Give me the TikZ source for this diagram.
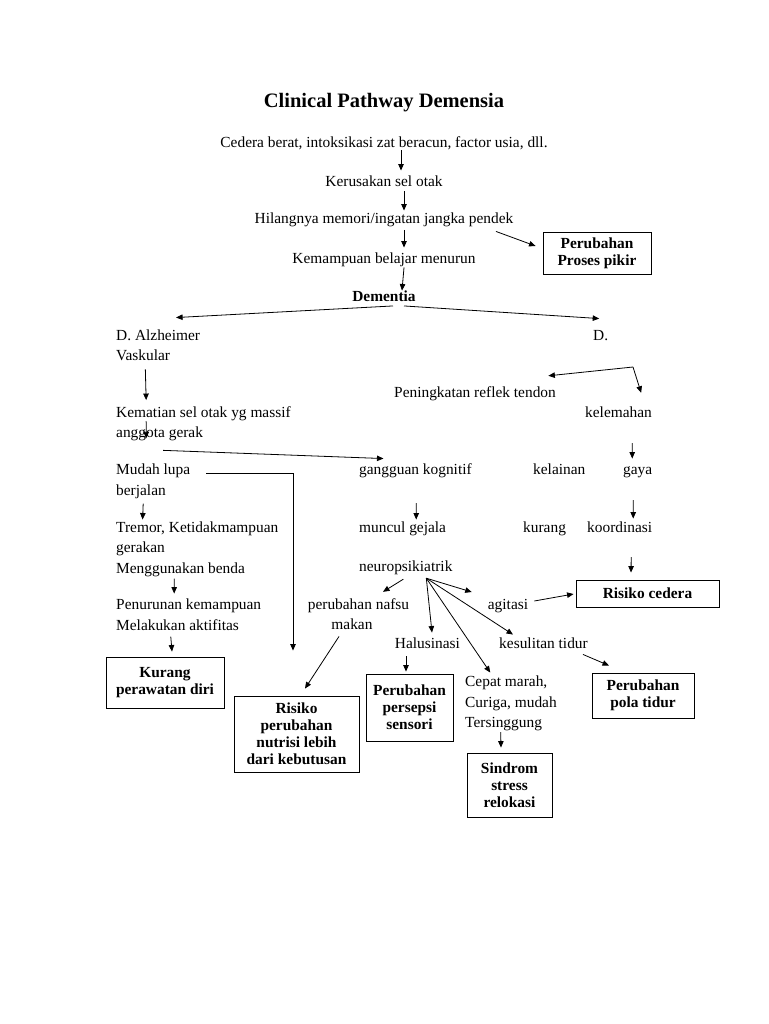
\documentclass[tikz,border=0pt]{standalone}
\usepackage{fontspec}
\setmainfont{Liberation Serif}
\usetikzlibrary{arrows.meta, positioning}
\newcommand{\bodyfont}{\fontsize{15.4}{19}\selectfont}

\begin{document}
\begin{tikzpicture}[x=1pt, y=-1pt,
    txt/.style={font=\bodyfont, inner xsep=0pt, inner ysep=2pt,
      text height=14pt, text depth=0.5pt},
    dxbox/.style={draw, line width=0.9pt, align=center, inner sep=0pt,
      font={\fontsize{15.4}{17}\selectfont\bfseries}},
    flow/.style={-{Triangle[length=6.5pt,width=5.5pt]}, line width=0.8pt}
  ]
  \fill[white] (0,0) rectangle (768,1024);
  \useasboundingbox (0,0) rectangle (768,1024);

  \node[font=\fontsize{20.5}{24}\selectfont\bfseries] (title) at (384,102.5) {Clinical Pathway Demensia};

  % jalur utama
  \node[txt] (cedera) at (384,141) {Cedera berat, intoksikasi zat beracun, factor usia, dll.};
  \node[txt] (rusak) at (384,180) {Kerusakan sel otak};
  \node[txt] (hilang) at (384,217) {Hilangnya memori/ingatan jangka pendek};
  \node[txt] (belajar) at (384,257) {Kemampuan belajar menurun};
  \node[txt, font=\bodyfont\bfseries] (dementia) at (384,295) {Dementia};
  \node[dxbox, minimum width=108, minimum height=42] (pikir) at (597,253) {Perubahan\\Proses pikir};

  % kolom kiri
  \node[txt, anchor=west] (alz) at (116,334) {D. Alzheimer};
  \node[txt, below=1pt of alz.south west, anchor=north west] (vask) {Vaskular};
  \node[txt, anchor=west] (mati) at (116,411) {Kematian sel otak yg massif};
  \node[txt, below=1pt of mati.south west, anchor=north west] (anggota) {anggota gerak};
  \node[txt, anchor=west] (lupa) at (116,468) {Mudah lupa};
  \node[txt, below=1.5pt of lupa.south west, anchor=north west] (jalan) {berjalan};
  \node[txt, anchor=west] (tremor) at (116,526) {Tremor, Ketidakmampuan};
  \node[txt, below=1pt of tremor.south west, anchor=north west] (gerakan) {gerakan};
  \node[txt, below=1.5pt of gerakan.south west, anchor=north west] (benda) {Menggunakan benda};
  \node[txt, anchor=west] (turun) at (116,603) {Penurunan kemampuan};
  \node[txt, below=1.5pt of turun.south west, anchor=north west] (aktif) {Melakukan aktifitas};
  \node[dxbox, minimum width=118, minimum height=51] (rawat) at (165,682.5) {Kurang\\perawatan diri};

  % kolom tengah
  \node[txt, anchor=west] (kognitif) at (359,468) {gangguan kognitif};
  \node[txt, anchor=west] (gejala) at (359,526) {muncul gejala};
  \node[txt, anchor=west] (neuro) at (359,565) {neuropsikiatrik};
  \node[txt] (nafsu) at (358.5,603) {perubahan nafsu};
  \node[txt] (makan) at (352,623) {makan};
  \node[txt] (agitasi) at (508,603) {agitasi};
  \node[txt] (halu) at (427.5,642) {Halusinasi};
  \node[txt] (sulit) at (543.5,642) {kesulitan tidur};
  \node[txt, anchor=west] (marah) at (465,680) {Cepat marah,};
  \node[txt, below=1.5pt of marah.south west, anchor=north west] (curiga) {Curiga, mudah};
  \node[txt, below=1.5pt of curiga.south west, anchor=north west] (singgung) {Tersinggung};
  \node[dxbox, minimum width=125, minimum height=76] (nutrisi) at (296.5,734) {Risiko\\perubahan\\nutrisi lebih\\dari kebutusan};
  \node[dxbox, minimum width=87, minimum height=67] (persepsi) at (409.5,707.5) {Perubahan\\persepsi\\sensori};
  \node[dxbox, minimum width=85, minimum height=64] (relokasi) at (509.5,785) {Sindrom\\stress\\relokasi};
  \node[dxbox, minimum width=102, minimum height=45] (pola) at (643,695.5) {Perubahan\\pola tidur};

  % kolom kanan
  \node[txt, anchor=west] (dkanan) at (593,334) {D.};
  \node[txt, anchor=west] (reflek) at (394,391) {Peningkatan reflek tendon};
  \node[txt, anchor=west] (lemah) at (585,411) {kelemahan};
  \node[txt, anchor=west] (kelainan) at (533,468) {kelainan};
  \node[txt, anchor=west] (gaya) at (623,468) {gaya};
  \node[txt, anchor=west] (kurang) at (523,526) {kurang};
  \node[txt, anchor=west] (koord) at (587,526) {koordinasi};
  \node[dxbox, minimum width=143, minimum height=27] (cedera2) at (647.5,593.5) {Risiko cedera};
  \coordinate (cabang) at (633,367);

  \draw[flow] ([shift={(17,0)}]cedera.south) -- ([shift={(17,0)}]rusak.north);
  \draw[flow] ([shift={(20,2)}]rusak.south) -- ([shift={(20,3)}]hilang.north);
  \draw[flow] ([shift={(20,3.5)}]hilang.south) -- ([shift={(20,0)}]belajar.north);
  \draw[flow] ([shift={(20,1)}]belajar.south) -- ([shift={(18,5)}]dementia.north);
  \draw[flow] ([shift={(112,5)}]hilang.south) -- ([shift={(-7,-7)}]pikir.west);
  \draw[flow] ([shift={(9,1.5)}]dementia.south) -- ([shift={(18,-7)}]alz.north);
  \draw[flow] ([shift={(20,1.5)}]dementia.south) -- ([shift={(-1.5,-6)}]dkanan.north);

  \draw[flow] ([shift={(2.2,6)}]vask.south) -- ([shift={(-57.3,-1.5)}]mati.north);
  \draw[flow] ([shift={(-57.3,1)}]mati.south) -- ([shift={(-13.4,-2)}]anggota.south);
  \draw[flow] ([shift={(3.6,10)}]anggota.south) -- ([shift={(-32,0)}]kognitif.north);
  \draw[flow] ([shift={(16,5)}]lupa.east) -| ([shift={(-3.5,-45)}]nutrisi.north);
  \draw[flow] ([shift={(2.2,5.75)}]jalan.south) -- ([shift={(-54.7,3)}]tremor.north);
  \draw[flow] ([shift={(-6.4,2.75)}]benda.south) -- ([shift={(-14.5,0)}]turun.north);
  \draw[flow] ([shift={(-6.8,3.75)}]aktif.south) -- ([shift={(7,-5)}]rawat.north);

  \draw[flow] ([shift={(0.8,25.75)}]kognitif.south) -- ([shift={(13.6,3)}]gejala.north);
  \draw[flow] ([shift={(-2.5,4.75)}]neuro.south) -- ([shift={(24.5,-1.75)}]nafsu.north);
  \draw[flow] ([shift={(20.5,3.75)}]neuro.south) -- ([shift={(-16,-11)}]agitasi.west);
  \draw[flow] ([shift={(20.5,3.75)}]neuro.south) -- ([shift={(4.5,0)}]halu.north);
  \draw[flow] ([shift={(20.5,3.75)}]neuro.south) -- ([shift={(-16,2)}]marah.north);
  \draw[flow] ([shift={(20.5,3.75)}]neuro.south) -- ([shift={(-30.5,2)}]sulit.north);
  \draw[flow] ([shift={(6,-2)}]agitasi.east) -- ([shift={(-2,0.5)}]cedera2.west);
  \draw[flow] ([shift={(39.5,3)}]sulit.south) -- ([shift={(-34,-7)}]pola.north);
  \draw[flow] ([shift={(-13,4)}]makan.south) -- ([shift={(8.5,-7)}]nutrisi.north);
  \draw[flow] ([shift={(-21.5,4.75)}]halu.south) -- ([shift={(-3.5,-2)}]persepsi.north);
  \draw[flow] ([shift={(-2.9,1.75)}]singgung.south) -- ([shift={(-8.5,-5)}]relokasi.north);

  \draw[flow] (cabang) -- ([shift={(-7.7,-5.75)}]reflek.north east);
  \draw[flow] (cabang) -- ([shift={(22.6,-8.75)}]lemah.north);
  \draw[flow] ([shift={(13.6,22.75)}]lemah.south) -- ([shift={(-5.5,0)}]gaya.north);
  \draw[flow] ([shift={(-4.5,22.75)}]gaya.south) -- ([shift={(13.5,2)}]koord.north);
  \draw[flow] ([shift={(11.5,21.75)}]koord.south) -- ([shift={(-16.5,-7)}]cedera2.north);
\end{tikzpicture}
\end{document}
